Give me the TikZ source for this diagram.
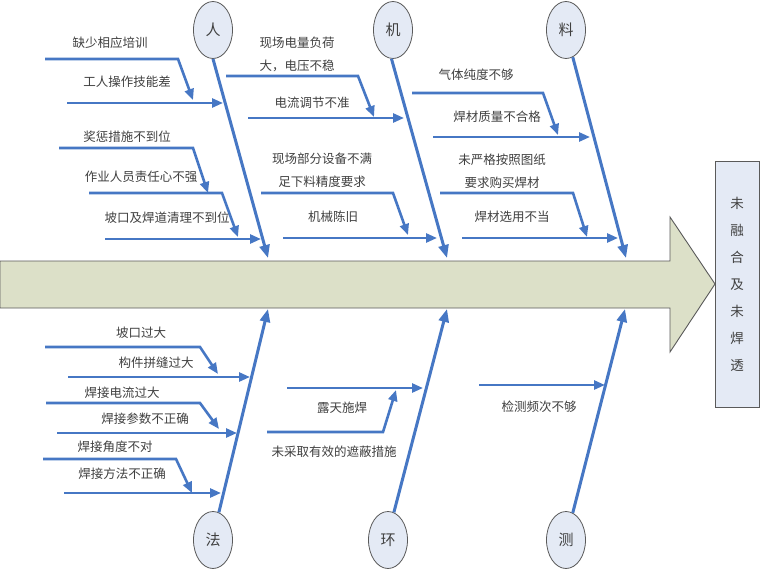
\documentclass[tikz,border=0pt]{standalone}
\usepackage{fontspec}
\setmainfont{Noto Sans CJK SC}
\usetikzlibrary{arrows.meta,shapes.geometric}
\definecolor{bonec}{HTML}{4677C4}
\definecolor{arrowfill}{HTML}{DCE0C8}
\definecolor{ellfill}{HTML}{E4EAF5}
\definecolor{txt}{HTML}{404040}
\definecolor{edge}{HTML}{5A5A5A}
\begin{document}
\begin{tikzpicture}[x=1pt,y=-1pt,
  cat/.style={ellipse, draw=edge, line width=0.8pt, fill=ellfill, minimum width=39pt, minimum height=57pt, inner sep=0pt, text=txt, font=\fontsize{15}{18}\selectfont},
  lbl/.style={text=txt, inner sep=0pt, align=center, font=\fontsize{12.5}{23}\selectfont},
  mainb/.style={draw=bonec, line width=3pt, -{Triangle[length=13pt,width=10pt]}},
  subb/.style={draw=bonec, line width=2.6pt, line join=miter, -{Triangle[length=11pt,width=9pt]}}]
\useasboundingbox (0,0) rectangle (760,570);
\fill[white] (0,0) rectangle (760,570);
% spine arrow
\draw[fill=arrowfill, draw=edge, line width=0.9pt] (0,261) -- (670,261) -- (670,217) -- (715,284) -- (670,352) -- (670,308) -- (0,308) -- cycle;
% result box
\node[draw=edge, line width=0.9pt, fill=ellfill, minimum width=44pt, minimum height=246pt, inner sep=0pt, text=txt, align=center, font=\fontsize{13.5}{27}\selectfont] (res) at (737,284) {未\\融\\合\\及\\未\\焊\\透};
% category ellipses
\node[cat] (ren) at (213,30) {人};
\node[cat] (ji) at (393,30) {机};
\node[cat] (liao) at (566,30) {料};
\node[cat] (fa) at (213,540) {法};
\node[cat] (huan) at (388,540) {环};
\node[cat] (ce) at (566,540) {测};
% main bones
\coordinate (renT) at (268,258);
\coordinate (jiT) at (447,258);
\coordinate (liaoT) at (626,258);
\coordinate (faT) at (268,309);
\coordinate (huanT) at (447,309);
\coordinate (ceT) at (625,309);
\draw[mainb] (ren.south) -- (renT);
\draw[mainb] (ji.-93) -- (jiT);
\draw[mainb] (liao.-76) -- (liaoT);
\draw[mainb] (fa.78) -- (faT);
\draw[mainb] (huan.78) -- (huanT);
\draw[mainb] (ce.76) -- (ceT);
% 人 sub-bones
\coordinate (a1s) at (45,59); \coordinate (a1k) at (178,59); \coordinate (a1e) at (193,100);
\coordinate (a2s) at (67,103); \coordinate (a2e) at (223,103);
\coordinate (a3s) at (59,148); \coordinate (a3k) at (193,148); \coordinate (a3e) at (208,193);
\coordinate (a4s) at (89,193); \coordinate (a4k) at (222,193); \coordinate (a4e) at (238,237);
\coordinate (a5s) at (105,239); \coordinate (a5e) at (261,239);
\draw[subb] (a1s) -- (a1k) -- (a1e);
\draw[subb] (a2s) -- (a2e);
\draw[subb] (a3s) -- (a3k) -- (a3e);
\draw[subb] (a4s) -- (a4k) -- (a4e);
\draw[subb] (a5s) -- (a5e);
\node[lbl] (ta1) at (110,43) {缺少相应培训};
\node[lbl] (ta2) at (127,82) {工人操作技能差};
\node[lbl] (ta3) at (127,137) {奖惩措施不到位};
\node[lbl] (ta4) at (141,177) {作业人员责任心不强};
\node[lbl] (ta5) at (167,218) {坡口及焊道清理不到位};
% 机 sub-bones
\coordinate (b1s) at (226,76); \coordinate (b1k) at (358,76); \coordinate (b1e) at (374,117);
\coordinate (b2s) at (248,118); \coordinate (b2e) at (404,118);
\coordinate (b3s) at (261,193); \coordinate (b3k) at (393,193); \coordinate (b3e) at (408,235);
\coordinate (b4s) at (283,238); \coordinate (b4e) at (437,238);
\draw[subb] (b1s) -- (b1k) -- (b1e);
\draw[subb] (b2s) -- (b2e);
\draw[subb] (b3s) -- (b3k) -- (b3e);
\draw[subb] (b4s) -- (b4e);
\node[lbl] (tb1) at (297,54) {现场电量负荷\\大，电压不稳};
\node[lbl] (tb2) at (312,103) {电流调节不准};
\node[lbl] (tb3) at (322,170) {现场部分设备不满\\足下料精度要求};
\node[lbl] (tb4) at (333,217) {机械陈旧};
% 料 sub-bones
\coordinate (c1s) at (412,93); \coordinate (c1k) at (543,93); \coordinate (c1e) at (558,135);
\coordinate (c2s) at (433,137); \coordinate (c2e) at (590,137);
\coordinate (c3s) at (440,193); \coordinate (c3k) at (573,193); \coordinate (c3e) at (587,237);
\coordinate (c4s) at (462,238); \coordinate (c4e) at (618,238);
\draw[subb] (c1s) -- (c1k) -- (c1e);
\draw[subb] (c2s) -- (c2e);
\draw[subb] (c3s) -- (c3k) -- (c3e);
\draw[subb] (c4s) -- (c4e);
\node[lbl] (tc1) at (476,75) {气体纯度不够};
\node[lbl] (tc2) at (497,117) {焊材质量不合格};
\node[lbl] (tc3) at (502,171) {未严格按照图纸\\要求购买焊材};
\node[lbl] (tc4) at (512,217) {焊材选用不当};
% 法 sub-bones
\coordinate (d1s) at (45,347); \coordinate (d1k) at (200,347); \coordinate (d1e) at (218,374);
\coordinate (d2s) at (68,377); \coordinate (d2e) at (250,377);
\coordinate (d3s) at (46,403); \coordinate (d3k) at (200,403); \coordinate (d3e) at (219,429);
\coordinate (d4s) at (57,433); \coordinate (d4e) at (237,433);
\coordinate (d5s) at (43,459); \coordinate (d5k) at (176,459); \coordinate (d5e) at (192,493);
\coordinate (d6s) at (64,493); \coordinate (d6e) at (221,493);
\draw[subb] (d1s) -- (d1k) -- (d1e);
\draw[subb] (d2s) -- (d2e);
\draw[subb] (d3s) -- (d3k) -- (d3e);
\draw[subb] (d4s) -- (d4e);
\draw[subb] (d5s) -- (d5k) -- (d5e);
\draw[subb] (d6s) -- (d6e);
\node[lbl] (td1) at (141,333) {坡口过大};
\node[lbl] (td2) at (156,363) {构件拼缝过大};
\node[lbl] (td3) at (122,393) {焊接电流过大};
\node[lbl] (td4) at (145,419) {焊接参数不正确};
\node[lbl] (td5) at (115,447) {焊接角度不对};
\node[lbl] (td6) at (122,474) {焊接方法不正确};
% 环 sub-bones
\coordinate (e1s) at (287,388); \coordinate (e1e) at (423,388);
\coordinate (e2s) at (267,432); \coordinate (e2k) at (383,432); \coordinate (e2e) at (396,390);
\draw[subb] (e1s) -- (e1e);
\draw[subb] (e2s) -- (e2k) -- (e2e);
\node[lbl] (te1) at (342,408) {露天施焊};
\node[lbl] (te2) at (334,452) {未采取有效的遮蔽措施};
% 测 sub-bone
\coordinate (f1s) at (479,385); \coordinate (f1e) at (605,385);
\draw[subb] (f1s) -- (f1e);
\node[lbl] (tf1) at (539,407) {检测频次不够};
\end{tikzpicture}
\end{document}
